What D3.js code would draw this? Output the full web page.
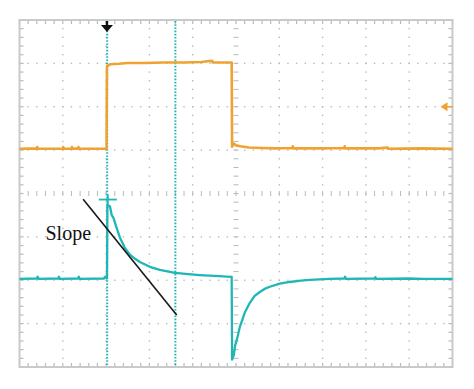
<!DOCTYPE html>
<html>
<head>
<meta charset="utf-8">
<script src="https://cdn.jsdelivr.net/npm/d3@7"></script>
<style>
  body { margin: 0; background: #fff; }
  svg { display: block; }
</style>
</head>
<body>
<div id="scope"></div>
<script>
"use strict";

let orangeTrace = [
  [0, 1.03], [0.4, 1.04], [0.41, 1.07], [0.42, 1.03], [1.0, 1.03], [1.01, 1.07], [1.02, 1.03],
  [1.2, 1.03], [1.21, 1.07], [1.22, 1.03], [1.35, 1.04], [1.36, 1.07], [1.37, 1.03], [2.01, 1.03],
  [2.02, 2.93], [2.06, 2.96], [2.1, 2.98], [2.3, 2.99], [2.5, 3.01], [2.9, 3.01], [3.3, 3.02],
  [3.8, 3.02], [4.2, 3.03], [4.45, 3.06], [4.46, 3.02], [4.9, 3.02],
  [4.91, 1.08], [4.95, 1.15], [5.0, 1.11], [5.1, 1.09], [5.3, 1.06], [5.6, 1.05],
  [5.9, 1.04], [6.3, 1.05], [6.31, 1.09], [6.32, 1.04], [7.0, 1.04], [7.5, 1.05], [7.51, 1.09],
  [7.52, 1.04], [8.3, 1.04], [8.5, 1.06], [8.51, 1.03], [9.3, 1.04], [10, 1.03]
];

let cyanTrace = [
  [0, -1.97], [0.4, -1.96], [0.42, -1.92], [0.44, -1.97], [0.9, -1.96], [0.91, -1.92],
  [0.93, -1.97], [1.35, -1.96], [1.37, -1.92], [1.39, -1.97], [1.95, -1.96], [1.98, -1.92], [2.02, -1.96],
  [2.03, -0.26], [2.09, -0.3], [2.13, -0.5], [2.17, -0.56], [2.23, -0.75], [2.28, -0.9],
  [2.32, -1.02], [2.38, -1.14], [2.43, -1.25], [2.55, -1.41], [2.66, -1.5], [2.78, -1.58],
  [3.01, -1.69], [3.24, -1.76], [3.59, -1.83], [3.9, -1.86], [4.16, -1.88], [4.5, -1.9], [4.9, -1.92],
  [4.91, -3.83], [4.95, -3.72], [4.98, -3.5], [5.02, -3.37], [5.06, -3.2], [5.09, -3.07],
  [5.15, -2.9], [5.2, -2.75], [5.32, -2.52], [5.43, -2.36], [5.55, -2.27], [5.66, -2.2],
  [5.78, -2.15], [6.01, -2.08], [6.24, -2.04], [6.5, -2.01], [6.7, -1.99], [7.16, -1.97],
  [7.5, -1.96], [7.52, -1.92], [7.54, -1.97], [8.2, -1.96], [8.22, -1.93], [8.24, -1.97],
  [9.0, -1.96], [9.3, -1.97], [10, -1.97]
];

let cursorTimes = [2.025, 3.6];
let cursorMark = [2.04, -0.14];
let triggerTime = 2.02;
let refLevel = 2.0;
let slopeLine = [[1.47, -0.13], [3.63, -2.8]];
let slopeLabel = { text: "Slope", at: [0.6, -1.07] };

let divsX = d3.range(0, 11);
let divsY = d3.range(-4, 5);

let width = 474,
    height = 389;

let x = d3.scaleLinear().domain([0, 10]).range([19.5, 452.5]);
let y = d3.scaleLinear().domain([-4, 4]).range([367, 20]);

let svg = d3.select("#scope").append("svg")
    .attr("width", width)
    .attr("height", height);

let grid = svg.append("g");
let gridColor = "#b9b9b9";
let minorX = d3.range(0, 50.01).map(i => i / 5);
let minorY = d3.range(-20, 20.01).map(i => i / 5);

// dotted graticule
divsX.slice(1, -1).forEach(d => {
  if (d === 5) return;
  grid.selectAll(null).data(minorY).enter().append("rect")
      .attr("x", x(d) - 0.7).attr("y", v => y(v) - 0.7)
      .attr("width", 1.4).attr("height", 1.4)
      .attr("fill", gridColor);
});
divsY.slice(1, -1).forEach(d => {
  if (d === 0) return;
  grid.selectAll(null).data(minorX).enter().append("rect")
      .attr("x", t => x(t) - 0.7).attr("y", y(d) - 0.7)
      .attr("width", 1.4).attr("height", 1.4)
      .attr("fill", gridColor);
});

// centre axes with small ticks
grid.selectAll(null).data(minorY).enter().append("line")
    .attr("x1", x(5) - 2.5).attr("x2", x(5) + 2.5)
    .attr("y1", v => y(v)).attr("y2", v => y(v))
    .attr("stroke", gridColor).attr("stroke-width", 1);
grid.selectAll(null).data(minorX).enter().append("line")
    .attr("x1", t => x(t)).attr("x2", t => x(t))
    .attr("y1", y(0) - 2.5).attr("y2", y(0) + 2.5)
    .attr("stroke", gridColor).attr("stroke-width", 1);

// border ticks
grid.selectAll(null).data(minorX).enter().append("line")
    .attr("x1", t => x(t)).attr("x2", t => x(t))
    .attr("y1", y(4)).attr("y2", y(4) + 4)
    .attr("stroke", gridColor).attr("stroke-width", 1.2);
grid.selectAll(null).data(minorX).enter().append("line")
    .attr("x1", t => x(t)).attr("x2", t => x(t))
    .attr("y1", y(-4)).attr("y2", y(-4) - 4)
    .attr("stroke", gridColor).attr("stroke-width", 1.2);
grid.selectAll(null).data(minorY).enter().append("line")
    .attr("x1", x(0)).attr("x2", x(0) + 4)
    .attr("y1", v => y(v)).attr("y2", v => y(v))
    .attr("stroke", gridColor).attr("stroke-width", 1.2);
grid.selectAll(null).data(minorY).enter().append("line")
    .attr("x1", x(10)).attr("x2", x(10) - 4)
    .attr("y1", v => y(v)).attr("y2", v => y(v))
    .attr("stroke", gridColor).attr("stroke-width", 1.2);

grid.append("rect")
    .attr("x", x(0)).attr("y", y(4))
    .attr("width", x(10) - x(0)).attr("height", y(-4) - y(4))
    .attr("fill", "none")
    .attr("stroke", "#c9c9c9")
    .attr("stroke-width", 2);

// cursors
let cyan = "#20b6b6";
let orange = "#efa232";
svg.selectAll(".cursor").data(cursorTimes).enter().append("line")
    .attr("class", "cursor")
    .attr("x1", t => x(t)).attr("x2", t => x(t))
    .attr("y1", y(4) + 1).attr("y2", y(-4) - 1)
    .attr("stroke", cyan)
    .attr("stroke-width", 2)
    .attr("stroke-dasharray", "1.6,1.6");

let line = d3.line()
    .x(d => x(d[0]))
    .y(d => y(d[1]));

svg.append("path")
    .attr("d", line(orangeTrace))
    .attr("fill", "none")
    .attr("stroke", orange)
    .attr("stroke-width", 2.6)
    .attr("stroke-linejoin", "round");

svg.append("path")
    .attr("d", line(cyanTrace))
    .attr("fill", "none")
    .attr("stroke", cyan)
    .attr("stroke-width", 2.3)
    .attr("stroke-linejoin", "round");

// cursor "+" marker
svg.append("line")
    .attr("x1", x(cursorMark[0]) - 9).attr("x2", x(cursorMark[0]) + 9)
    .attr("y1", y(cursorMark[1])).attr("y2", y(cursorMark[1]))
    .attr("stroke", cyan).attr("stroke-width", 1.8);
svg.append("line")
    .attr("x1", x(cursorMark[0])).attr("x2", x(cursorMark[0]))
    .attr("y1", y(cursorMark[1]) - 5).attr("y2", y(cursorMark[1]) + 5)
    .attr("stroke", cyan).attr("stroke-width", 1.8);

// trigger position marker
let tx = x(triggerTime);
svg.append("path")
    .attr("d", `M${tx - 1.2},${21} L${tx + 1.2},${21} L${tx + 1.2},${25} L${tx + 6},${25} L${tx},${32} L${tx - 6},${25} L${tx - 1.2},${25} Z`)
    .attr("fill", "#111");

// orange reference level marker
let ry = y(refLevel);
svg.append("path")
    .attr("d", `M${x(10) - 12},${ry} L${x(10) - 5},${ry - 4.5} L${x(10) - 5},${ry + 4.5} Z`)
    .attr("fill", orange);
svg.append("line")
    .attr("x1", x(10) - 6).attr("x2", x(10))
    .attr("y1", ry).attr("y2", ry)
    .attr("stroke", orange).attr("stroke-width", 1.5);

// slope annotation
svg.append("line")
    .attr("x1", x(slopeLine[0][0])).attr("y1", y(slopeLine[0][1]))
    .attr("x2", x(slopeLine[1][0])).attr("y2", y(slopeLine[1][1]))
    .attr("stroke", "#1a1a1a")
    .attr("stroke-width", 1.6);

svg.append("text")
    .attr("x", x(slopeLabel.at[0]))
    .attr("y", y(slopeLabel.at[1]))
    .attr("font-family", "'Liberation Serif', 'DejaVu Serif', serif")
    .attr("font-size", 20)
    .attr("fill", "#111")
    .text(slopeLabel.text);
</script>
</body>
</html>
